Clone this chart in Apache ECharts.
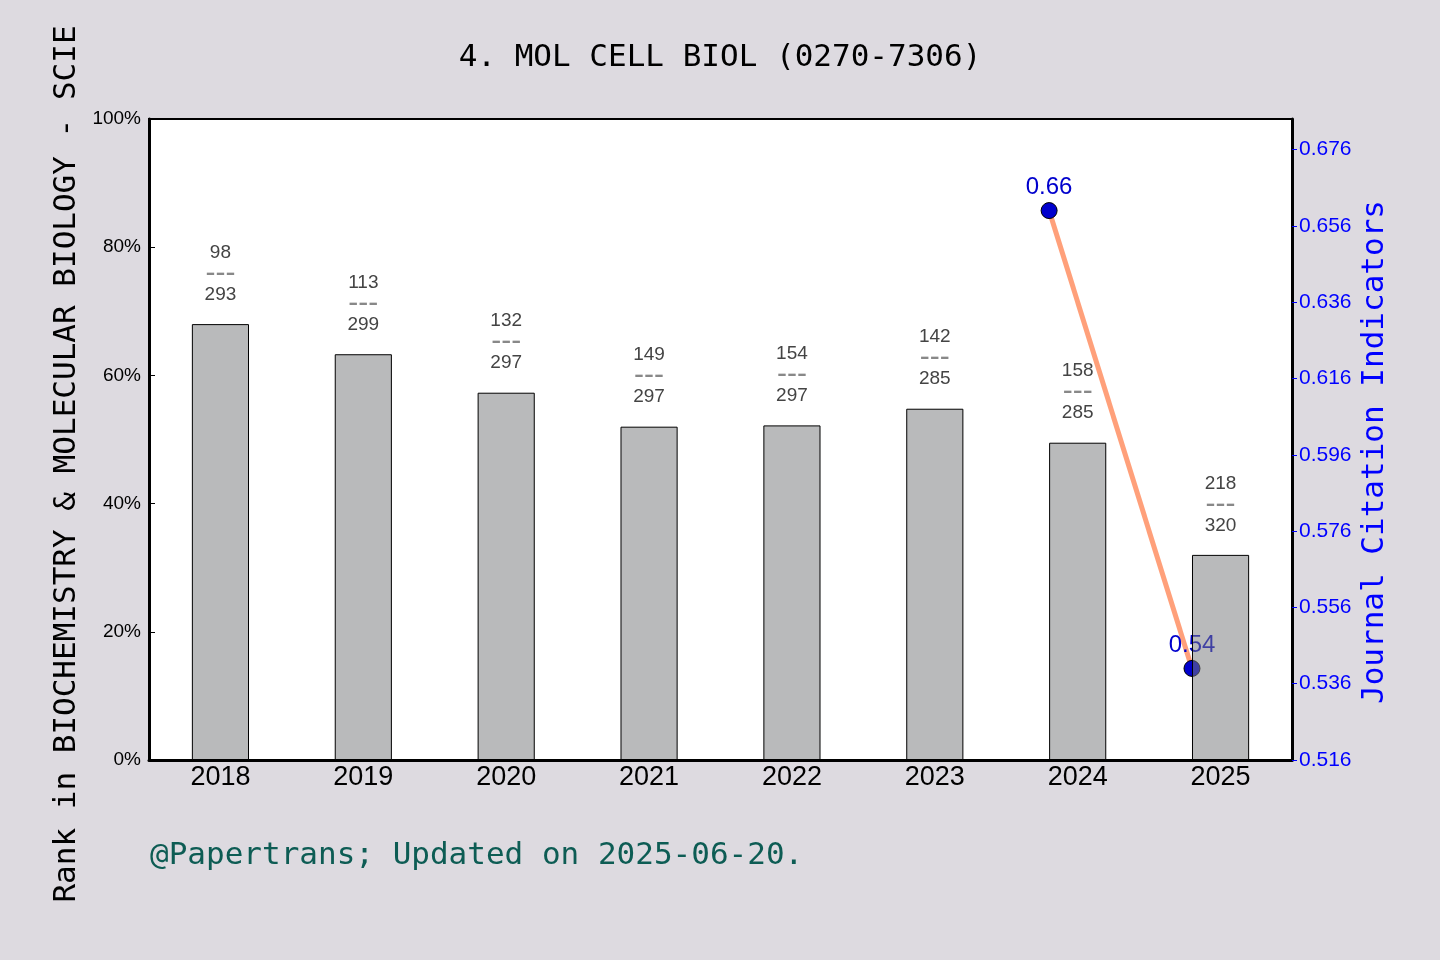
<!DOCTYPE html>
<html>
<head>
<meta charset="utf-8">
<script src="https://cdn.jsdelivr.net/npm/echarts@6/dist/echarts.min.js"></script>
<style>
html,body{margin:0;padding:0;background:#dddae0;}
#chart{width:1440px;height:960px;}
</style>
</head>
<body>
<div id="chart"></div>
<script>
const years = ['2018','2019','2020','2021','2022','2023','2024','2025'];
const rankPct = [68.0, 63.3, 57.3, 52.0, 52.2, 54.8, 49.5, 32.0];
const ranks = [98, 113, 132, 149, 154, 142, 158, 218];
const totals = [293, 299, 297, 297, 297, 285, 285, 320];
const jci = [null, null, null, null, null, null, 0.66, 0.54];
const leftTicks = [0, 20, 40, 60, 80, 100];
const rightTicks = [0.516, 0.536, 0.556, 0.576, 0.596, 0.616, 0.636, 0.656, 0.676];
const titleText = '4. MOL CELL BIOL (0270-7306)';
const footerText = '@Papertrans; Updated on 2025-06-20.';
const leftName = 'Rank in BIOCHEMISTRY & MOLECULAR BIOLOGY - SCIE';
const rightName = 'Journal Citation Indicators';

const barFrac = 0.4;
// line points sit at the left edge of each year's bar
const jciPoints = [];
jci.forEach((v, i) => { if (v !== null) jciPoints.push([i - barFrac / 2, v]); });

const chart = echarts.init(document.getElementById('chart'), null, {renderer: 'canvas'});
const mono = 'DejaVu Sans Mono';
const option = {
  backgroundColor: '#dddae0',
  animation: false,
  grid: {left: 149, right: 148, top: 119, bottom: 200, show: true, backgroundColor: '#ffffff', borderColor: '#000', borderWidth: 2},
  xAxis: [{
    type: 'category', data: years, boundaryGap: true,
    axisLine: {onZero: false, lineStyle: {color: '#000', width: 3}},
    axisTick: {inside: true, length: 6, lineStyle: {color: '#000', width: 1}},
    axisLabel: {color: '#000', fontSize: 27, fontFamily: 'Liberation Sans', margin: 4}
  }, {
    type: 'value', min: -0.5, max: years.length - 0.5, show: false,
    axisLine: {onZero: false}
  }],
  yAxis: [{
    type: 'value', min: 0, max: 100, interval: 20, position: 'left',
    axisLine: {show: true, onZero: false, lineStyle: {color: '#000', width: 3}},
    axisTick: {show: true, inside: true, length: 6, lineStyle: {color: '#000'}},
    axisLabel: {color: '#000', fontSize: 19, fontFamily: 'Liberation Sans', margin: 8, formatter: '{value}%'},
    splitLine: {show: false}
  }, {
    type: 'value', min: 0.516, max: 0.684, position: 'right',
    axisLine: {show: true, onZero: false, lineStyle: {color: '#000', width: 3}},
    axisTick: {show: true, inside: false, length: 5, lineStyle: {color: '#0000ff'}, customValues: rightTicks},
    axisLabel: {color: '#0000ff', fontSize: 21, fontFamily: 'Liberation Sans', margin: 7, customValues: rightTicks,
      formatter: v => v.toFixed(3)},
    splitLine: {show: false}
  }],
  series: [{
    type: 'line', xAxisIndex: 1, yAxisIndex: 1, data: jciPoints, z: 2,
    lineStyle: {color: '#ffa07a', width: 5},
    symbol: 'circle', symbolSize: 16,
    itemStyle: {color: '#0000cd', borderColor: '#000', borderWidth: 1},
    label: {show: true, position: 'top', distance: 3, color: '#0000cd', fontSize: 24, fontFamily: 'Liberation Sans',
      formatter: p => p.value[1].toFixed(2)}
  }, {
    type: 'bar', xAxisIndex: 0, yAxisIndex: 0, data: rankPct, barWidth: (barFrac * 100) + '%', z: 3,
    itemStyle: {color: 'rgba(120,122,125,0.52)', borderColor: '#000', borderWidth: 1},
    label: {show: true, position: 'top', distance: 19,
      formatter: p => '{n|' + ranks[p.dataIndex] + '}\n{d|---}\n{n|' + totals[p.dataIndex] + '}',
      rich: {
        n: {color: '#444', fontSize: 19, fontFamily: 'Liberation Sans', lineHeight: 21, align: 'center'},
        d: {color: '#888', fontSize: 30, fontFamily: 'Liberation Sans', lineHeight: 21, align: 'center'}
      }}
  }],
  graphic: [
    {type: 'text', left: 'center', top: 42, style: {text: titleText, font: '31px "' + mono + '"', fill: '#000'}},
    {type: 'text', x: 150, y: 856, style: {text: footerText, font: '31px "' + mono + '"', fill: '#0d5c54', verticalAlign: 'middle'}},
    {type: 'text', x: 67, y: 464, rotation: Math.PI / 2, style: {text: leftName, font: '31px "' + mono + '"', fill: '#000', align: 'center', verticalAlign: 'middle'}},
    {type: 'text', x: 1375, y: 452, rotation: Math.PI / 2, style: {text: rightName, font: '31px "' + mono + '"', fill: '#0000ff', align: 'center', verticalAlign: 'middle'}}
  ]
};
chart.setOption(option);
</script>
</body>
</html>
